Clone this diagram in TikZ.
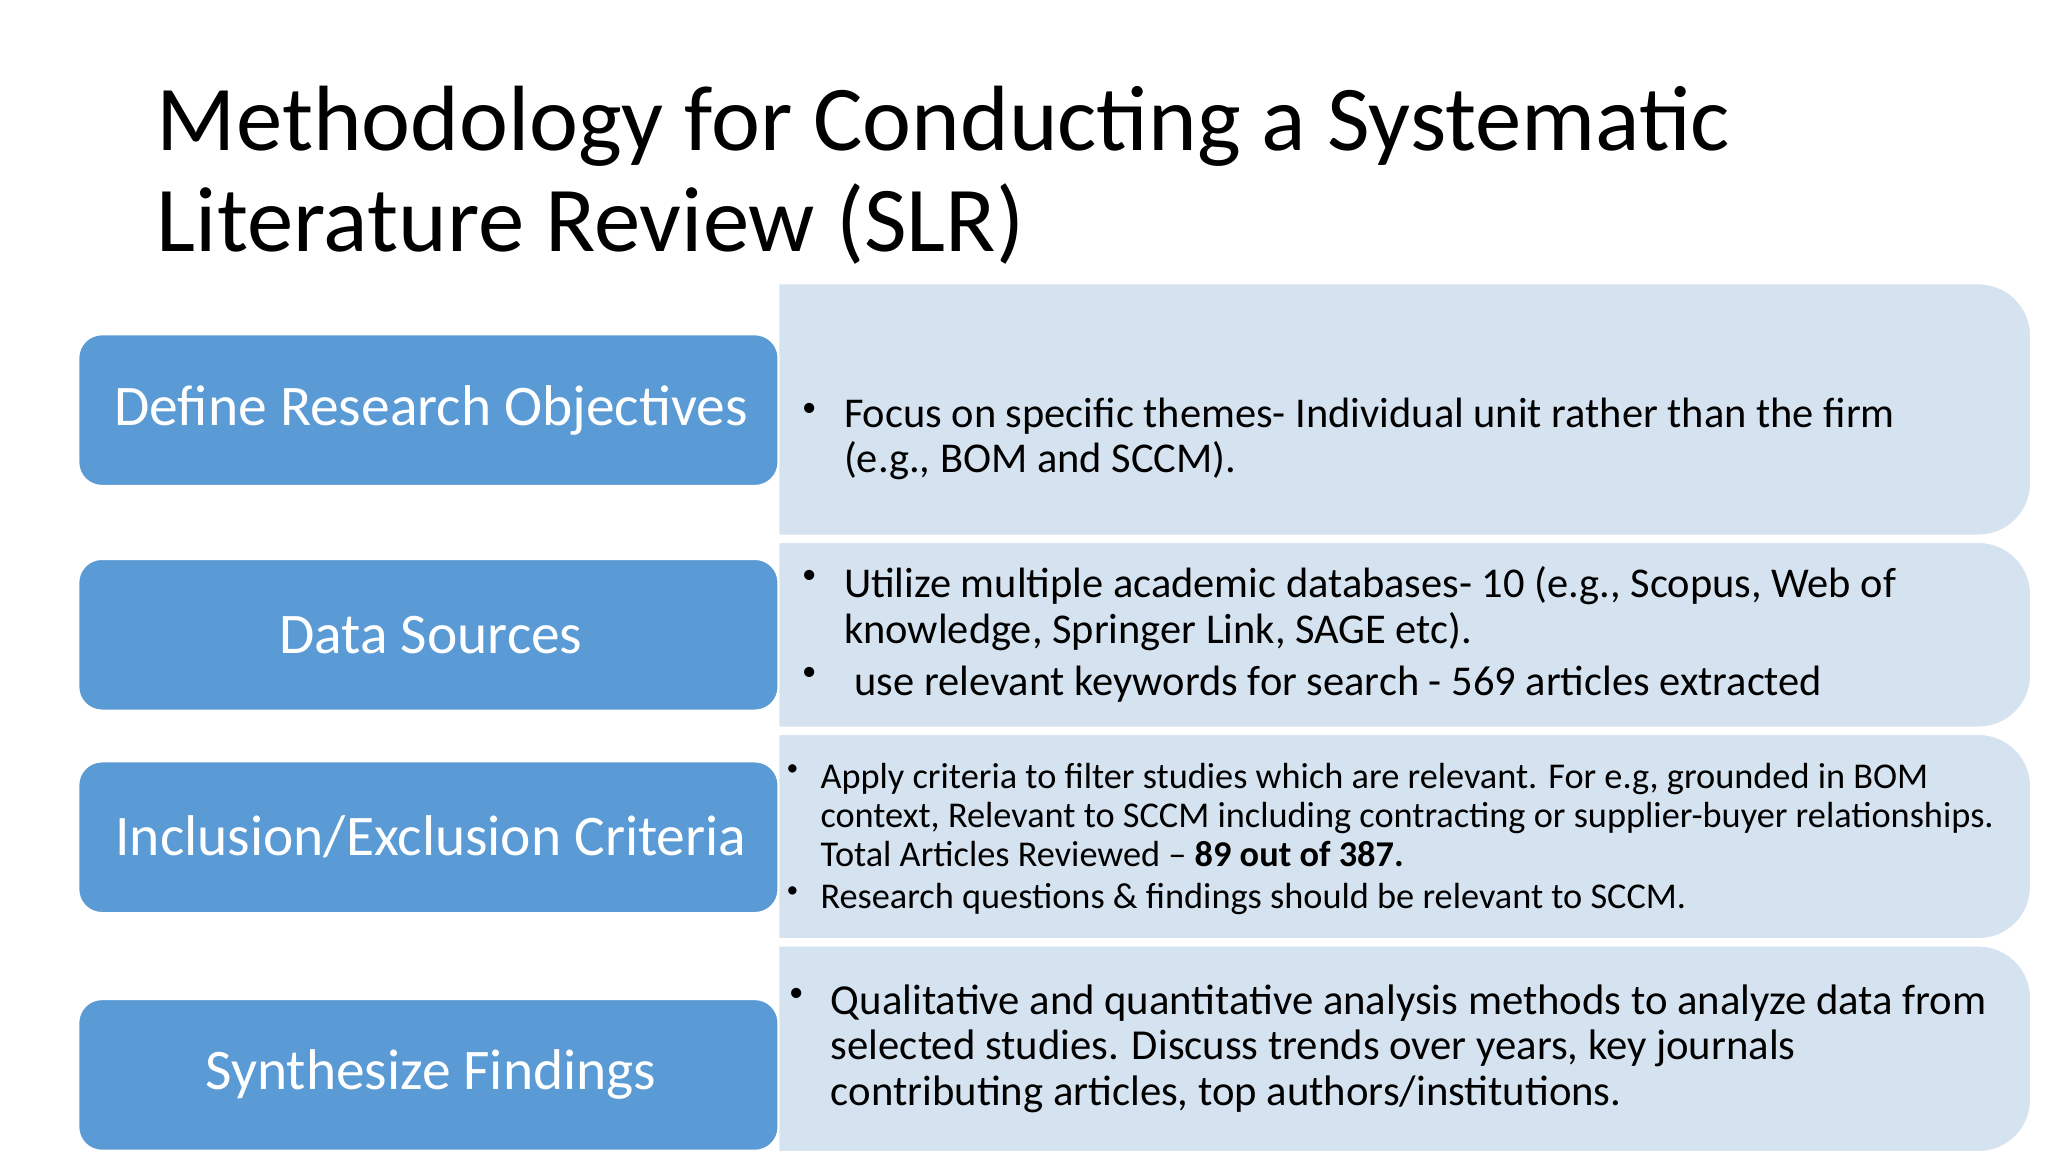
\documentclass[tikz,border=0pt]{standalone}
\usepackage{fontspec}
\setmainfont{Carlito}
\definecolor{lbox}{HTML}{5B9BD5}
\definecolor{rpan}{HTML}{D5E2EF}
\begin{document}
\begin{tikzpicture}[x=1pt,y=-1pt,
  lstep/.style={draw=white,line width=1.5pt,fill=lbox,rounded corners=18pt},
  ltext/.style={text=white,font=\fontsize{44}{48}\selectfont},
  rpanel/.style={fill=rpan,draw=white,line width=1.5pt},
  rtext/.style={anchor=west,align=left,font=\fontsize{32.5}{35}\selectfont,inner sep=0pt},
  bul/.style={anchor=west,inner sep=0pt,font=\fontsize{22}{24}\selectfont}]
\useasboundingbox (0,0) rectangle (1568,882);
\fill[white] (0,0) rectangle (1568,882);
\node[anchor=west,align=left,inner sep=0pt,font=\fontsize{71}{77}\selectfont] (title) at (120,134)
 {Methodology for Conducting a Systematic\\Literature Review (SLR)};
% right panels
\foreach \n/\a/\b in {p1/217/410,p2/415/557,p3/562/719,p4/724/882}{
  \draw[rpanel] (596,\a) [rounded corners=40pt] -- (1555,\a) -- (1555,\b) [rounded corners=0pt] -- (596,\b) -- cycle;
  \coordinate (\n) at (596,\a);
}
% left boxes
\foreach \n/\a/\b/\t in {l1/256/372/{Define Research Objectives},l2/428/544/{Data Sources},l3/583/699/{Inclusion/Exclusion Criteria},l4/765/881/{Synthesize Findings}}{
  \draw[lstep] (60,\a) rectangle (596,\b);
  \node[ltext] (\n) at (330,{(\a+\b)/2}) {\t};
}
% panel texts
\node[bul] (b1) at (614,314) {•};
\node[rtext] (t1) at (646,336) {Focus on specific themes- Individual unit rather than the firm\\(e.g., BOM and SCCM).};
\node[bul] (b2) at (614,442) {•};
\node[rtext] (t2) at (646,466) {Utilize multiple academic databases- 10 (e.g., Scopus, Web of\\knowledge, Springer Link, SAGE etc).};
\node[bul] (b3) at (614,516) {•};
\node[rtext] (t3) at (654,524) {use relevant keywords for search - 569 articles extracted};
\node[bul,font=\fontsize{18}{20}\selectfont] (b4) at (602,590) {•};
\node[rtext,font=\fontsize{27.8}{30}\selectfont] (t4) at (628,624) {Apply criteria to filter studies which are relevant. For e.g, grounded in BOM\\context, Relevant to SCCM including contracting or supplier-buyer relationships.\\Total Articles Reviewed – \textbf{89 out of 387.}};
\node[bul,font=\fontsize{18}{20}\selectfont] (b5) at (602,683) {•};
\node[rtext,font=\fontsize{27.8}{30}\selectfont] (t5) at (628,688) {Research questions \& findings should be relevant to SCCM.};
\node[bul] (b6) at (604,762) {•};
\node[rtext,font=\fontsize{32.7}{35}\selectfont] (t6) at (636,803) {Qualitative and quantitative analysis methods to analyze data from\\selected studies. Discuss trends over years, key journals\\contributing articles, top authors/institutions.};
\end{tikzpicture}
\end{document}
